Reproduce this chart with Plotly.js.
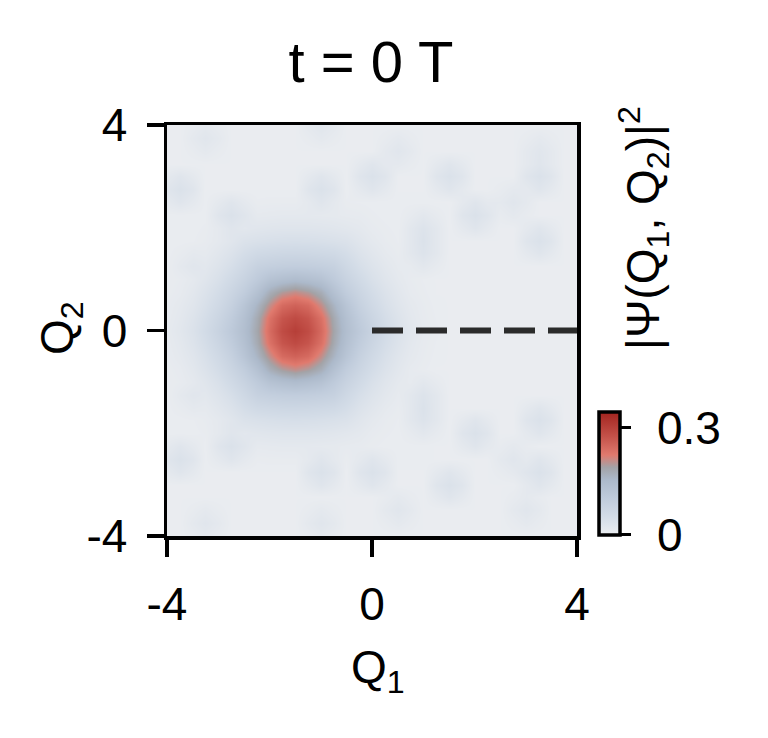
<!DOCTYPE html>
<html><head><meta charset="utf-8">
<script src="https://cdn.plot.ly/plotly-3.0.1.min.js"></script>
<style>html,body{margin:0;padding:0;background:#fff}#chart{width:768px;height:738px}</style>
</head><body><div id="chart"></div>
<script>
// grid coordinates
const q1 = [-4,-3.75,-3.5,-3.25,-3,-2.75,-2.5,-2.25,-2,-1.75,-1.5,-1.25,-1,-0.75,-0.5,-0.25,0,0.25,0.5,0.75,1,1.25,1.5,1.75,2,2.25,2.5,2.75,3,3.25,3.5,3.75,4];
const q2 = [-4,-3.75,-3.5,-3.25,-3,-2.75,-2.5,-2.25,-2,-1.75,-1.5,-1.25,-1,-0.75,-0.5,-0.25,0,0.25,0.5,0.75,1,1.25,1.5,1.75,2,2.25,2.5,2.75,3,3.25,3.5,3.75,4];
// |Psi(Q1,Q2)|^2 in units of 1e-3; rows: Q2 = -4 .. 4, columns: Q1 = -4 .. 4
const psiMilli = [
[5,5,10,16,10,5,5,5,5,5,5,10,16,10,5,5,5,5,5,5,5,5,5,5,5,5,5,5,5,5,5,5,5],
[5,5,16,24,16,5,5,5,5,5,5,16,24,16,5,5,5,10,16,10,5,5,5,5,5,5,5,10,16,10,5,5,5],
[5,5,10,16,10,5,5,5,5,5,5,10,16,10,5,5,5,16,24,16,5,5,5,5,5,5,5,16,24,16,5,5,5],
[5,5,5,5,5,5,5,5,5,5,5,5,5,5,5,5,5,10,16,10,5,16,26,16,5,5,5,10,16,10,5,5,5],
[5,5,5,5,5,5,5,5,5,5,5,16,26,16,5,16,26,16,5,5,5,26,36,26,5,5,5,5,16,26,16,5,5],
[16,26,16,5,5,5,5,5,5,5,5,26,36,26,5,26,36,26,5,5,5,16,26,16,5,5,10,16,26,36,26,5,5],
[26,36,26,6,16,26,16,8,9,9,9,16,26,16,8,16,26,16,6,6,6,5,5,5,5,5,16,24,16,26,16,5,5],
[16,26,16,6,26,36,26,14,15,16,16,16,15,14,12,11,8,6,6,6,6,5,5,16,26,16,10,16,10,5,5,5,5],
[6,6,6,8,16,26,21,24,26,27,27,27,26,24,21,17,11,8,6,12,20,12,5,26,36,26,5,5,16,26,16,5,5],
[6,6,7,10,16,25,35,39,42,44,45,44,42,39,35,25,16,10,7,20,32,20,5,16,26,16,5,5,26,36,26,5,5],
[6,10,16,14,23,34,49,60,64,67,68,67,64,60,49,34,23,14,9,20,36,20,5,5,5,5,5,5,16,26,16,5,5],
[6,16,24,20,31,45,64,84,91,95,97,95,91,84,64,45,31,20,12,20,32,20,5,5,5,5,5,5,5,5,5,5,5],
[7,10,16,26,40,59,80,104,128,138,145,138,128,104,80,59,40,26,16,12,20,12,5,5,5,5,5,5,5,5,5,5,5],
[8,12,21,34,51,73,98,132,174,197,209,197,174,132,98,73,51,34,21,12,8,5,5,5,5,5,5,5,5,5,5,5,5],
[10,16,26,41,61,86,121,162,208,244,255,244,208,162,121,86,61,41,26,16,10,6,5,5,5,5,5,5,5,5,5,5,5],
[11,19,32,49,72,99,134,179,236,272,287,272,236,179,134,99,72,49,32,19,11,7,5,5,5,5,5,5,5,5,5,5,5],
[13,22,36,55,80,108,140,185,245,285,305,285,245,185,140,108,80,55,36,22,13,8,5,5,5,5,5,5,5,5,5,5,5],
[11,19,32,49,72,99,134,179,236,272,287,272,236,179,134,99,72,49,32,19,11,7,5,5,5,5,5,5,5,5,5,5,5],
[10,16,26,41,61,86,121,162,208,244,255,244,208,162,121,86,61,41,26,16,10,6,5,5,5,5,5,5,5,5,5,5,5],
[8,12,21,34,51,73,98,132,174,197,209,197,174,132,98,73,51,34,21,12,8,5,5,5,5,5,5,5,5,5,5,5,5],
[7,10,16,26,40,59,80,104,128,138,145,138,128,104,80,59,40,26,16,10,7,5,5,5,5,5,5,5,5,5,5,5,5],
[6,16,24,20,31,45,64,84,91,95,97,95,91,84,64,45,31,20,12,12,20,12,5,5,5,5,5,5,5,5,5,5,5],
[6,10,16,14,23,34,49,60,64,67,68,67,64,60,49,34,23,14,9,20,32,20,5,5,5,5,5,5,16,26,16,5,5],
[6,6,7,10,16,25,35,39,42,44,45,44,42,39,35,25,16,10,7,20,36,20,5,5,5,5,5,5,26,36,26,5,5],
[6,6,6,8,16,26,21,24,26,27,27,27,26,24,21,17,11,8,6,20,32,20,5,16,26,16,5,5,16,26,16,5,5],
[6,6,6,6,26,36,26,14,15,16,16,16,15,14,12,11,8,6,6,12,20,12,5,26,36,26,10,16,10,5,5,5,5],
[16,26,16,6,16,26,16,8,9,9,9,16,26,16,8,7,6,6,6,6,6,5,5,16,26,16,16,24,16,5,5,5,5],
[26,36,26,5,5,5,5,5,5,5,5,26,36,26,5,16,26,16,5,5,5,16,26,16,5,5,10,16,16,26,16,5,5],
[16,26,16,5,5,5,5,5,5,5,5,16,26,16,5,26,36,26,5,5,5,26,36,26,5,5,5,5,26,36,26,5,5],
[5,5,5,5,5,5,5,5,5,5,5,5,5,5,5,16,26,16,16,10,5,16,26,16,5,5,5,5,16,26,16,5,5],
[5,5,10,16,10,5,5,5,5,5,5,5,5,5,5,5,5,16,24,16,5,5,5,5,5,5,5,5,16,24,16,5,5],
[5,5,16,24,16,5,5,5,5,5,5,10,16,10,5,5,5,10,16,10,5,5,5,5,5,5,5,5,10,16,10,5,5],
[5,5,10,16,10,5,5,5,5,5,5,16,24,16,5,5,5,5,5,5,5,5,5,5,5,5,5,5,5,5,5,5,5]
];
const zMax = 0.345;
const cbTickVals = [0, 0.3];
const cbTickText = ['0', '0.3'];
const axisTicks = [-4, 0, 4];
const cutQ1 = [0, 4];
const cutQ2 = [0, 0];

const psi2 = psiMilli.map(r => r.map(v => v / 1000));
const FONT = 'Liberation Sans, Arial, sans-serif';

const L = 167, R = 577, T = 125, B = 536;
const W = R - L, H = B - T;
const px = x => (x - L) / W;
const py = y => (B - y) / H;

// colorbar geometry (pixels)
const cbTop = 412, cbBot = 534.5;
const cbVal2Py = v => cbBot - (v / zMax) * (cbBot - cbTop);

const heat = {
  type: 'heatmap', x: q1, y: q2, z: psi2, zsmooth: 'best',
  zmin: 0, zmax: zMax, hoverinfo: 'skip',
  colorscale: [
    [0, '#eceef1'], [0.15, '#d3dce7'], [0.3, '#bfcbdb'], [0.45, '#acb9ca'],
    [0.55, '#a3a3a7'], [0.65, '#e07a6e'], [0.8, '#c4524a'], [1, '#a3241f']
  ],
  colorbar: {
    thickness: 21, thicknessmode: 'pixels', len: cbBot - cbTop, lenmode: 'pixels',
    x: px(598.5), xanchor: 'left', y: py(cbBot), yanchor: 'bottom',
    xpad: 0, ypad: 0, outlinewidth: 3.5, outlinecolor: '#000',
    ticks: 'outside', ticklen: 10, tickwidth: 3.5, tickcolor: '#000',
    tickvals: cbTickVals, showticklabels: false
  }
};
const cut = {
  type: 'scatter', mode: 'lines', x: cutQ1, y: cutQ2, hoverinfo: 'skip',
  line: {color: '#2b2b2b', width: 6, dash: '31px,13px'}, showlegend: false
};

const axisCommon = {
  range: [-4, 4], tickvals: axisTicks, ticktext: axisTicks.map(String),
  showgrid: false, zeroline: false, showline: true, linewidth: 3.5, linecolor: '#000',
  mirror: true, ticks: 'outside', ticklen: 17, tickwidth: 3.5, tickcolor: '#000',
  tickfont: {family: FONT, size: 46, color: '#000'}
};

const cbLabels = cbTickVals.map((v, k) => ({
  text: cbTickText[k], xref: 'paper', yref: 'paper', x: px(655), y: py(cbVal2Py(v)),
  xanchor: 'left', yanchor: 'middle', showarrow: false,
  font: {family: FONT, size: 46, color: '#000'}
}));

const layout = {
  width: 768, height: 738,
  margin: {l: L, r: 768 - R, t: T, b: 738 - B, pad: 0},
  paper_bgcolor: '#fff', plot_bgcolor: '#fff',
  showlegend: false,
  title: {text: 't = 0 T', font: {family: FONT, size: 58, color: '#000'},
          x: px(371), xref: 'paper', xanchor: 'center', y: 1 - 62/738, yref: 'container', yanchor: 'middle'},
  xaxis: Object.assign({}, axisCommon, {ticklabelstandoff: 8}),
  yaxis: Object.assign({}, axisCommon, {ticklabelstandoff: 10}),
  annotations: [
    {text: 'Q<sub>1</sub>', xref: 'paper', yref: 'paper', x: px(378), y: py(670),
     xanchor: 'center', yanchor: 'middle', showarrow: false,
     font: {family: FONT, size: 46, color: '#000'}},
    {text: 'Q<sub>2</sub>', xref: 'paper', yref: 'paper', x: px(60), y: py(328),
     xanchor: 'center', yanchor: 'middle', showarrow: false, textangle: -90,
     font: {family: FONT, size: 46, color: '#000'}},
    {text: '|Ψ(Q<sub>1</sub>, Q<sub>2</sub>)|<sup>2</sup>', xref: 'paper', yref: 'paper',
     x: px(643), y: py(228), xanchor: 'center', yanchor: 'middle', showarrow: false, textangle: -90,
     font: {family: FONT, size: 46, color: '#000'}}
  ].concat(cbLabels)
};

Plotly.newPlot('chart', [heat, cut], layout, {displayModeBar: false, staticPlot: true});
</script>
</body></html>
